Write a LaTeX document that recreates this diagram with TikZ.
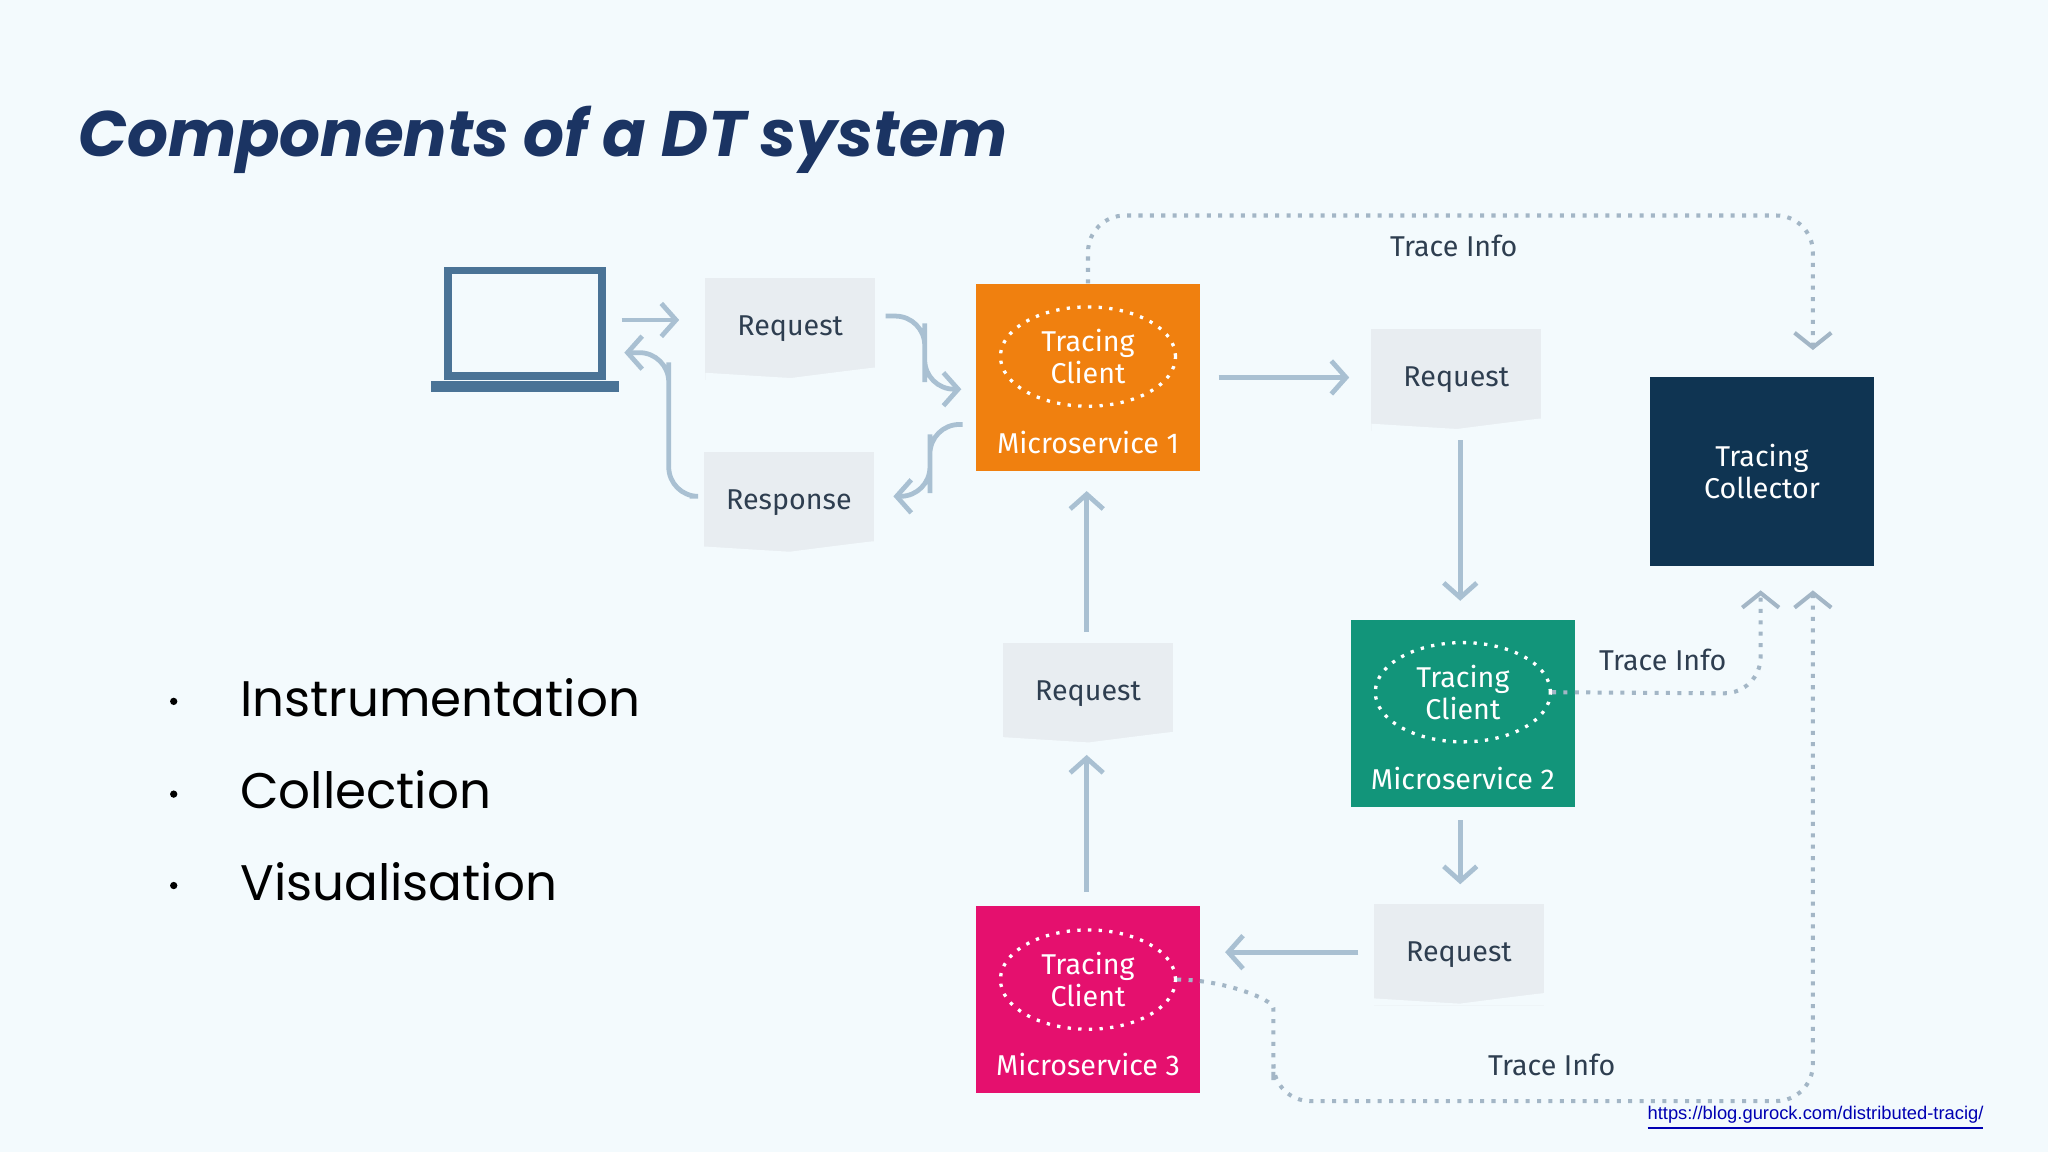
\documentclass[tikz,border=0pt]{standalone}
\usepackage{fontspec}
\setmainfont{Fira Sans}
\newfontfamily\popfont{Poppins}
\newfontfamily\urlfont{Liberation Sans}
\usetikzlibrary{arrows.meta,positioning,shapes.geometric}
\definecolor{bgcol}{HTML}{F3FAFD}
\definecolor{titlecol}{HTML}{1B3463}
\definecolor{doccol}{HTML}{E8EDF1}
\definecolor{doctext}{HTML}{2E3E50}
\definecolor{flowcol}{HTML}{A9C0D2}
\definecolor{msorange}{HTML}{F0800F}
\definecolor{msgreen}{HTML}{12957A}
\definecolor{mspink}{HTML}{E5106E}
\definecolor{collcol}{HTML}{0F3452}
\definecolor{laptopcol}{HTML}{4A7396}
\tikzset{
  doc/.style={rectangle,fill=doccol,minimum width=1.625cm,minimum height=0.975cm,
    text=doctext,font=\fontsize{7.8}{9}\selectfont,
    path picture={\fill[bgcol] ([yshift=0.12cm]path picture bounding box.south east)
      .. controls +(-0.35,-0.22) and +(0.4,-0.15) .. ([xshift=-0.8cm,yshift=0.02cm]path picture bounding box.south east)
      .. controls +(-0.4,0.15) and +(0.3,0) .. ([yshift=0.07cm]path picture bounding box.south west)
      -- (path picture bounding box.south west) -- (path picture bounding box.south east) -- cycle;}},
  ms/.style={rectangle,minimum width=2.1375cm,minimum height=1.7875cm,text=white},
  msname/.style={text=white,font=\fontsize{7.8}{9}\selectfont},
  client/.style={ellipse,draw=white,dotted,line width=0.9pt,minimum width=1.675cm,minimum height=0.95cm,
    inner sep=0pt,text=white,align=center,font=\fontsize{7.8}{8.8}\selectfont},
  flow/.style={draw=flowcol,line width=1.3pt,-{Straight Barb[length=4pt,width=9pt]},rounded corners=8pt},
  trace/.style={draw=flowcol!85!gray,line width=1.1pt,dotted,-{Straight Barb[length=4pt,width=10pt]},rounded corners=10pt},
  label/.style={text=doctext,font=\fontsize{7.8}{9}\selectfont}
}
\begin{document}
\begin{tikzpicture}[x=0.0125cm,y=-0.0125cm]
\useasboundingbox[fill=bgcol] (0,0) rectangle (1568,882);
\node[anchor=west,text=titlecol,font=\popfont\bfseries\itshape\fontsize{17.5}{19}\selectfont] (title) at (50,107) {Components of a DT system};
% bullets
\foreach \t/\y in {Instrumentation/534,Collection/605,Visualisation/675}{
  \node[anchor=west,font=\popfont\fontsize{13.6}{16}\selectfont] (b\y) at (174,\y) {\t};
  \fill (133,\y+3) circle (2.8);
}
% laptop
\draw[laptopcol,line width=2pt] (343,207) rectangle (461,288);
\draw[laptopcol,line width=3pt] (330,296) -- (474,296);
\coordinate (lapin) at (476,245);
\coordinate (lapout) at (478,270);
% documents
\node[doc] (req1) at (605,252) {Request};
\node[doc] (resp) at (604,385) {Response};
\node[doc] (req2) at (1115,291) {Request};
\node[doc] (req3) at (833,531) {Request};
\node[doc] (req4) at (1117,731) {Request};
% microservices
\node[ms,fill=msorange] (ms1) at (833,289) {};
\node[client] (tc1) at (833,273) {Tracing\\Client};
\node[msname] at (833,339) {Microservice 1};
\node[ms,fill=msgreen] (ms2) at (1120,546) {};
\node[client] (tc2) at (1120,530) {Tracing\\Client};
\node[msname] at (1120,596) {Microservice 2};
\node[ms,fill=mspink] (ms3) at (833,765) {};
\node[client] (tc3) at (833,750) {Tracing\\Client};
\node[msname] at (833,815) {Microservice 3};
\node[rectangle,fill=collcol,minimum width=2.15cm,minimum height=1.8cm,text=white,align=center,
  font=\fontsize{7.8}{8.8}\selectfont] (coll) at (1349,361) {Tracing\\Collector};
% request flow
\draw[flow] (lapin) -- (520,245);
\draw[flow] (528,380) -| (512,300) |- (lapout);
\draw[flow] (678,242) -| (708,270) |- (736,298);
\draw[flow] (737,325) -| (712,355) |- (684,380);
\draw[flow] (933,289) -- (1033,289);
\draw[flow] (1118,337) -- (1118,460);
\draw[flow] (1118,628) -- (1118,677);
\draw[flow] (1040,729) -- (938,729);
\draw[flow] (832,683) -- (832,578);
\draw[flow] (832,484) -- (832,376);
% trace info
\draw[trace] (ms1.north) |- (1388,165) -- (1388,268);
\draw[trace] (tc2.east) -- (1348,531) -- (1348,452);
\draw[trace] (tc3.east) to[out=0,in=90] (975,800) |- (1388,843) -- (1388,452);
\node[label] (ti1) at (1113,188) {Trace Info};
\node[label] (ti2) at (1273,505) {Trace Info};
\node[label] (ti3) at (1188,815) {Trace Info};
\node[font=\urlfont\fontsize{5}{6}\selectfont,text=blue!70!black] (src) at (1390,856) {\underline{https://blog.gurock.com/distributed-tracig/}};
\end{tikzpicture}
\end{document}
